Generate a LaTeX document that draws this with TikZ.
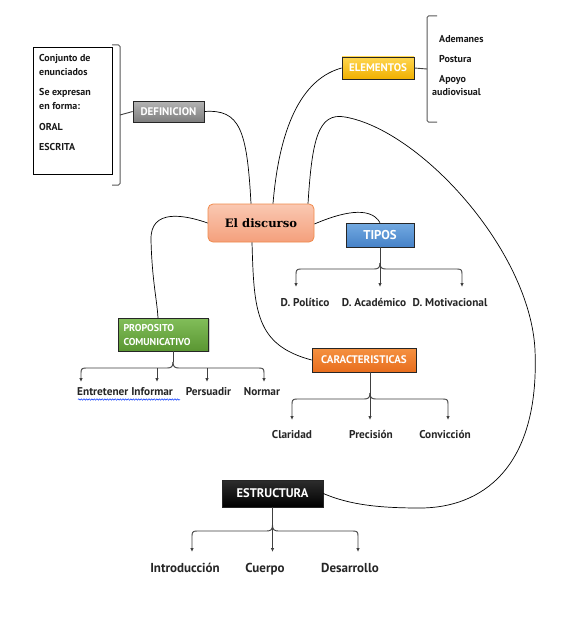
\documentclass[tikz,border=0pt]{standalone}
\usepackage{fontspec}
\setmainfont{PT Sans}
\newfontfamily\titlefont{DejaVu Serif}
\usetikzlibrary{shadows,arrows.meta,decorations.pathmorphing,calc}
\newcommand\leg[5]{% center x, end x, horizontal y, tip y, sign
  \draw[brc,-{Latex[length=4pt,width=3.5pt]}] ({#1},{#3-6}) .. controls ({#1},{#3-1}) and ({#1+2*(#5)},{#3}) .. ({#1+6*(#5)},{#3}) -- ({#2-5*(#5)},{#3}) .. controls ({#2-1*(#5)},{#3}) and ({#2},{#3+1}) .. ({#2},{#3+5}) -- ({#2},{#4});}
\newcommand\drop[3]{\draw[brc,-{Latex[length=4pt,width=3.5pt]}] ({#1},{#2}) -- ({#1},{#3});}
\begin{document}
\begin{tikzpicture}[x=1pt,y=-1pt,
  box/.style={draw=black!85, line width=0.7pt, text=white, inner sep=0pt,
    font=\bfseries\fontsize{11}{12}\selectfont,
    drop shadow={opacity=0.35,shadow xshift=1.3pt,shadow yshift=-1.3pt}},
  lbl/.style={font=\bfseries\fontsize{11.3}{12}\selectfont, text=black!85, inner sep=0pt, anchor=base},
  lbll/.style={lbl, font=\bfseries\fontsize{13}{14}\selectfont},
  deftxt/.style={font=\bfseries\fontsize{10}{11}\selectfont, text=black!90, inner sep=0pt, anchor=base west},
  brc/.style={draw=black!75, line width=0.9pt},
  bkt/.style={draw=black!65, line width=1pt, rounded corners=1.5pt},
  con/.style={draw=black, line width=0.7pt}]
\useasboundingbox (0,0) rectangle (565,626);
\fill[white] (0,0) rectangle (565,626);

% central node
\node[draw={rgb,255:red,240;green,138;blue,75}, line width=0.8pt, rounded corners=5pt,
  top color={rgb,255:red,250;green,200;blue,178}, bottom color={rgb,255:red,244;green,160;blue,124},
  minimum width=106pt, minimum height=38pt, inner sep=0pt,
  font=\titlefont\bfseries\fontsize{11.6}{13}\selectfont] (main) at (261,223) {El discurso};

% DEFINICION
\node[box, top color={rgb,255:red,180;green,180;blue,180}, bottom color={rgb,255:red,125;green,125;blue,125},
  minimum width=71pt, minimum height=21pt] (def) at (168.5,111.5) {DEFINICION};
\node[draw=black, line width=0.8pt, minimum width=79pt, minimum height=127pt, inner sep=0pt] (defbox) at (72.5,110.5) {};
\node[deftxt] (d1) at (39,61.5) {Conjunto de};
\node[deftxt] (d2) at (39,75.5) {enunciados};
\node[deftxt] (d3) at (39,95.5) {Se expresan};
\node[deftxt] (d4) at (39,109.5) {en forma:};
\node[deftxt] (d5) at (39,130.5) {ORAL};
\node[deftxt] (d6) at (39,150.5) {ESCRITA};
\coordinate (dbt) at (120,115);
\draw[bkt] (112,45) -- (120,45) -- (120,185) -- (112,185);
\draw[brc] (dbt) -- (def.west);

% ELEMENTOS
\node[box, top color={rgb,255:red,255;green,214;blue,80}, bottom color={rgb,255:red,240;green,176;blue,0},
  minimum width=72pt, minimum height=22pt] (ele) at (378,68) {ELEMENTOS};
\coordinate (ebt) at (427,69);
\draw[bkt] (437,16) -- (427,16) -- (427,122) -- (437,122);
\draw[brc] (ebt) -- (ele.east);
\node[deftxt] (e1) at (439,42.5) {Ademanes};
\node[deftxt] (e2) at (439,62.5) {Postura};
\node[deftxt] (e3) at (439,82.5) {Apoyo};
\node[deftxt] (e4) at (432,95.5) {audiovisual};

% TIPOS
\node[box, font=\bfseries\fontsize{12.8}{14}\selectfont,
  top color={rgb,255:red,115;green,170;blue,225}, bottom color={rgb,255:red,70;green,130;blue,200},
  minimum width=68pt, minimum height=24pt] (tip) at (380,235) {TIPOS};
\draw[brc] (tip.south) -- (380,263);
\leg{380}{296}{269}{287}{-1}
\leg{380}{462}{269}{287}{1}
\drop{380}{262}{287}
\node[lbl] (t1) at (305,306.5) {D. Político};
\node[lbl] (t2) at (374,306.5) {D. Académico};
\node[lbl] (t3) at (450,306.5) {D. Motivacional};

% PROPOSITO
\node[box, align=left, text width=80pt, inner xsep=5pt, inner ysep=4pt,
  font=\bfseries\fontsize{10}{14}\selectfont,
  top color={rgb,255:red,130;green,190;blue,90}, bottom color={rgb,255:red,90;green,150;blue,50},
  minimum width=89pt, minimum height=33pt] (pro) at (163.5,334.5) {PROPOSITO\\COMUNICATIVO};
\coordinate (pc) at ($(pro.south)+(9.5,0)$);
\draw[brc] (pc) -- (173,362);
\leg{173}{81}{368}{382}{-1}
\leg{173}{264}{368}{382}{1}
\drop{157}{368}{382}
\drop{207}{368}{382}
\node[lbl, anchor=base west] (p1) at (77,395) {Entretener Informar};
\node[lbl] (p3) at (208.5,395) {Persuadir};
\node[lbl] (p4) at (262,395) {Normar};
\draw[blue!80!cyan, line width=0.5pt, decorate, decoration={snake, amplitude=0.7pt, segment length=2.6pt}] (78,399.5) -- (180,399.5);

% CARACTERISTICAS
\node[box, top color={rgb,255:red,245;green,145;blue,65}, bottom color={rgb,255:red,232;green,110;blue,30},
  minimum width=104pt, minimum height=24pt] (car) at (364,360) {CARACTERISTICAS};
\coordinate (cc) at ($(car.south)+(6,0)$);
\draw[brc] (cc) -- (370,393);
\leg{370}{292}{399}{420}{-1}
\leg{370}{448}{399}{420}{1}
\drop{370}{393}{420}
\node[lbl] (c1) at (292,438) {Claridad};
\node[lbl] (c2) at (371,438) {Precisión};
\node[lbl] (c3) at (445,438) {Convicción};

% ESTRUCTURA
\node[box, font=\bfseries\fontsize{12.5}{14}\selectfont,
  top color={rgb,255:red,45;green,45;blue,45}, bottom color=black,
  minimum width=101pt, minimum height=27pt] (est) at (272.5,493.5) {ESTRUCTURA};
\draw[brc] (est.south) -- (272.5,525);
\leg{272.5}{192}{531}{552}{-1}
\leg{272.5}{358}{531}{552}{1}
\drop{272.5}{525}{552}
\node[lbll] (s1) at (185,572) {Introducción};
\node[lbll] (s2) at (265,572) {Cuerpo};
\node[lbll] (s3) at (350,572) {Desarrollo};

% connectors from the central node
\draw[con] (def.east) .. controls (240,109) and (247,130) .. ([xshift=-10pt]main.north);
\draw[con] (ele.west) .. controls (305,78) and (280,120) .. ([xshift=12pt]main.north);
\draw[con] ([xshift=47pt]main.north) .. controls (312,140) and (318,112) .. (345,117)
  .. controls (420,130) and (530,250) .. (535,350)
  .. controls (540,470) and (480,508) .. (420,508)
  .. controls (380,508) and (350,505) .. (est.east);
\draw[con] ([yshift=-1pt]main.east) .. controls (340,213) and (370,205) .. (tip.north);
\draw[con] (main.west) .. controls (185,215) and (150,208) .. (151,240)
  .. controls (152,280) and (157,300) .. (158,318);
\draw[con] ([xshift=-9pt]main.south) .. controls (254,310) and (255,345) .. (car.west);
\end{tikzpicture}
\end{document}
